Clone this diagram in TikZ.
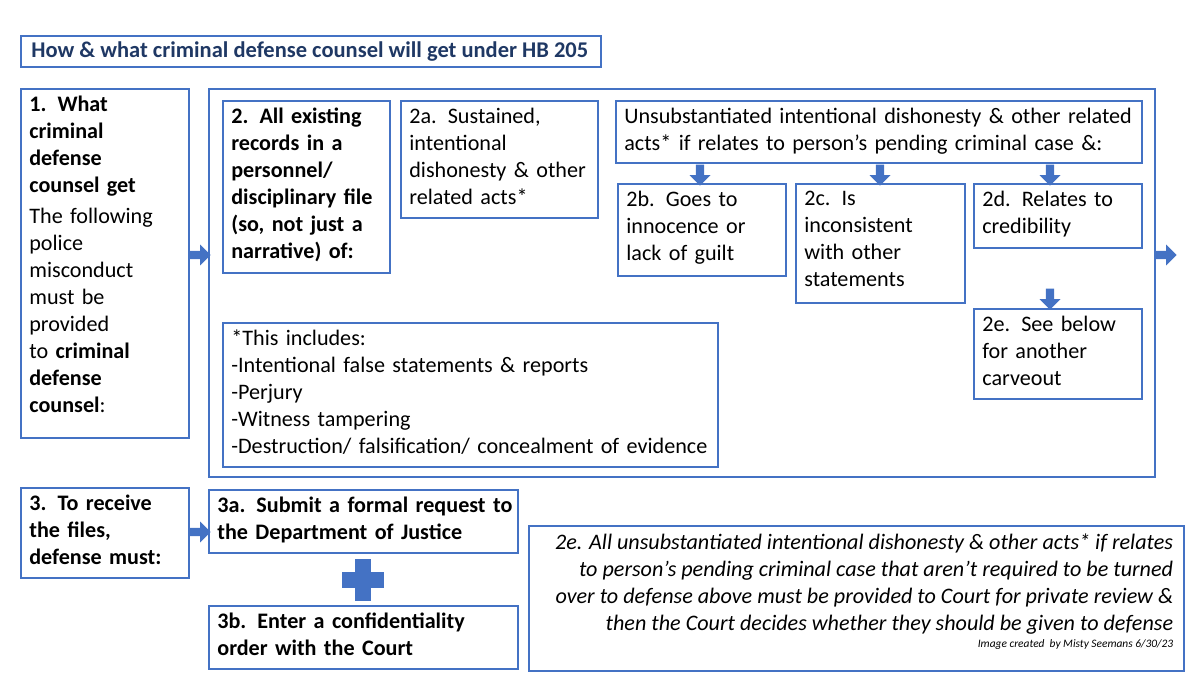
\documentclass[tikz,border=0pt]{standalone}
\usepackage{fontspec}
\setmainfont{Carlito}
\usetikzlibrary{shapes.arrows}
\definecolor{boxblue}{HTML}{4472C4}
\definecolor{titleblue}{HTML}{1F3864}
\tikzset{
  frame/.style={draw=boxblue, line width=1.4pt, anchor=north west, inner sep=0pt},
  txt/.style={anchor=north west, align=left, inner sep=0pt, font=\fontsize{12.6}{15.4}\selectfont},
  barrow/.style={single arrow, fill=boxblue, draw=none, minimum height=0.42cm,
    minimum width=0.42cm, single arrow head extend=0.12cm, inner sep=0.07cm}
}
\newcommand{\panel}[5]{% name, x1, y1, x2, y2
  \node[frame, minimum width=(#4-#2)*0.02cm, minimum height=(#5-#3)*0.02cm] (#1) at (#2,#3) {};}
\begin{document}
\lefthyphenmin=64
\begin{tikzpicture}[x=0.02cm, y=-0.02cm]
  \useasboundingbox (0,0) rectangle (1200,675);

  % title
  \panel{title}{20}{35}{600}{66}
  \node[txt, anchor=west, font=\fontsize{12.8}{15}\selectfont\bfseries, text=titleblue] at ([xshift=0.22cm]title.west)
    {How \& what criminal defense counsel will get under HB 205};

  % step 1
  \panel{one}{20}{88}{188}{437}
  \node[txt, text width=2.75cm] at ([shift={(0.18cm,-0.15cm)}]one.north west)
    {\textbf{1. What criminal defense counsel get}\\[2pt]
     The following police misconduct must be provided to \textbf{criminal defense counsel}:};

  % step 2 frame
  \panel{outer}{208}{88}{1154}{476}
  \panel{two}{222}{100}{389}{272}
  \node[txt, text width=3.15cm, font=\fontsize{12.6}{15.4}\selectfont\bfseries] at ([shift={(0.18cm,-0.15cm)}]two.north west)
    {2. All existing records in a personnel/ disciplinary file (so, not just a narrative) of:};
  \panel{twoa}{400}{100}{597}{217}
  \node[txt, text width=3.7cm] at ([shift={(0.18cm,-0.15cm)}]twoa.north west)
    {2a. Sustained, intentional dishonesty \& other related acts*};
  \panel{unsub}{615}{100}{1141}{162}
  \node[txt, text width=10.4cm] at ([shift={(0.18cm,-0.15cm)}]unsub.north west)
    {Unsubstantiated intentional dishonesty \& other related acts* if relates to person’s pending criminal case \&:};
  \panel{twob}{617}{183}{785}{275}
  \node[txt, text width=3.0cm] at ([shift={(0.18cm,-0.15cm)}]twob.north west)
    {2b. Goes to innocence or lack of guilt};
  \panel{twoc}{795}{183}{964}{302}
  \node[txt, text width=2.9cm] at ([shift={(0.18cm,-0.15cm)}]twoc.north west)
    {2c. Is inconsistent with other statements};
  \panel{twod}{973}{183}{1141}{247}
  \node[txt, text width=3.0cm] at ([shift={(0.18cm,-0.15cm)}]twod.north west)
    {2d. Relates to credibility};
  \panel{twoe}{973}{308}{1141}{398}
  \node[txt, text width=2.9cm] at ([shift={(0.18cm,-0.15cm)}]twoe.north west)
    {2e. See below for another carveout};
  \panel{star}{222}{322}{717}{466}
  \node[txt, text width=9.6cm] at ([shift={(0.18cm,-0.15cm)}]star.north west)
    {*This includes:\\
     -Intentional false statements \& reports\\
     -Perjury\\
     -Witness tampering\\
     -Destruction/ falsification/ concealment of evidence};

  % arrows
  \node[barrow] (a1) at (198,255) {};
  \node[barrow] (a2) at (1164,255) {};
  \foreach \ax/\ay/\nm in {700/173/d1, 880/173/d2, 1050/173/d3, 1050/297/d4}
    \node[barrow, rotate=-90] (\nm) at (\ax,\ay) {};
  \node[barrow] (a3) at (198,532) {};

  % step 3
  \panel{three}{20}{487}{188}{577}
  \node[txt, text width=2.8cm, font=\fontsize{12.6}{15.4}\selectfont\bfseries] at ([shift={(0.18cm,-0.15cm)}]three.north west)
    {3. To receive the files, defense must:};
  \panel{threea}{208}{489}{517}{552}
  \node[txt, text width=6cm, font=\fontsize{12.6}{15.4}\selectfont\bfseries] at ([shift={(0.18cm,-0.15cm)}]threea.north west)
    {3a. Submit a formal request to the Department of Justice};
  \fill[boxblue] (355,559) rectangle (371,601);
  \fill[boxblue] (342,572) rectangle (384,588);
  \panel{threeb}{208}{605}{517}{668}
  \node[txt, text width=6cm, font=\fontsize{12.6}{15.4}\selectfont\bfseries] at ([shift={(0.18cm,-0.15cm)}]threeb.north west)
    {3b. Enter a confidentiality order with the Court};

  % carveout note
  \panel{note}{528}{525}{1183}{670}
  \node[txt, anchor=north east, align=right, font=\fontsize{12.6}{15.4}\selectfont\itshape]
    (notetxt) at ([shift={(-0.24cm,-0.17cm)}]note.north east)
    {2e. All unsubstantiated intentional dishonesty \& other acts* if relates\\
     to person’s pending criminal case that aren’t required to be turned\\
     over to defense above must be provided to Court for private review \&\\
     then the Court decides whether they should be given to defense};
  \node[txt, anchor=north east, font=\fontsize{6.5}{7}\selectfont\itshape]
    (credit) at ([yshift=-0.08cm]notetxt.south east) {Image created \ by Misty Seemans 6/30/23};
\end{tikzpicture}
\end{document}
